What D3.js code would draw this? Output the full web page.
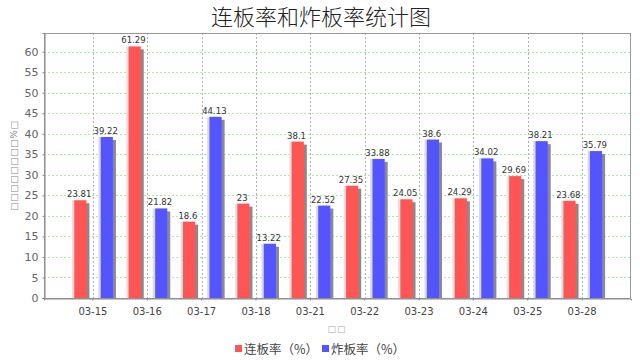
<!DOCTYPE html>
<html><head><meta charset="utf-8">
<script src="https://cdn.jsdelivr.net/npm/d3@7"></script>
<style>body{margin:0;background:#fff}svg{display:block}</style>
</head><body>
<svg id="c" width="640" height="360"></svg>
<script>
const categories = ["03-15","03-16","03-17","03-18","03-21","03-22","03-23","03-24","03-25","03-28"];
const seriesNames = ["连板率（%）","炸板率（%）"];
const lianban = [23.81,61.29,18.6,23,38.1,27.35,24.05,24.29,29.69,23.68];
const zhaban = [39.22,21.82,44.13,13.22,22.52,33.88,38.6,34.02,38.21,35.79];
const yTicks = [0,5,10,15,20,25,30,35,40,45,50,55,60];
const titleText = "连板率和炸板率统计图";
const yLabelText = "□□□□□□□□%□";
const xLabelText = "□□";

const svg = d3.select("#c");
const L=44, R=631, T=33, B=298;
const y = d3.scaleLinear().domain([0,64.55]).range([B,T]);
const x = d3.scaleBand().domain(categories).range([L,R]).paddingInner(0).paddingOuter(0.4);
const xs = d3.scaleBand().domain([0,1]).range([-27.5,26.5]).paddingInner(0.453).paddingOuter(0.245);
const colors = ["#ff5555","#5555ff"];
const lights = ["#ffd6d6","#d6d6ff"];
const data = [lianban, zhaban];

const defs = svg.append("defs");
colors.forEach((c,i)=>{
  const g = defs.append("linearGradient").attr("id","g"+i).attr("x1","0").attr("x2","1").attr("y1","0").attr("y2","0");
  g.append("stop").attr("offset","0").attr("stop-color",lights[i]);
  g.append("stop").attr("offset","0.12").attr("stop-color",lights[i]);
  g.append("stop").attr("offset","0.2").attr("stop-color",c);
  g.append("stop").attr("offset","1").attr("stop-color",c);
});

// title
svg.append("text").attr("x",321).attr("y",25).attr("text-anchor","middle")
  .attr("font-family","Noto Sans CJK SC").attr("font-weight",300).attr("font-size",22)
  .attr("fill","#222").text(titleText);

// plot background
svg.append("rect").attr("x",L).attr("y",T).attr("width",R-L).attr("height",B-T).attr("fill","#fff");

// horizontal gridlines
svg.append("g").selectAll("line").data(yTicks.filter(d=>d>0)).join("line")
  .attr("x1",L).attr("x2",R).attr("y1",d=>Math.round(y(d))+0.5).attr("y2",d=>Math.round(y(d))+0.5)
  .attr("stroke","#a8eca8").attr("stroke-dasharray","2,2").attr("stroke-width",1);
// vertical gridlines
svg.append("g").selectAll("line").data(categories).join("line")
  .attr("x1",d=>Math.round(x(d)+x.bandwidth()/2)+0.5).attr("x2",d=>Math.round(x(d)+x.bandwidth()/2)+0.5)
  .attr("y1",T).attr("y2",B)
  .attr("stroke","#b0b0b0").attr("stroke-dasharray","2,2").attr("stroke-width",1);

// bars
data.forEach((vals,si)=>{
  const g = svg.append("g");
  const cx = (d,i)=> x(categories[i]) + x.bandwidth()/2 + xs(si);
  g.selectAll("rect.s").data(vals).join("rect").attr("class","s")
    .attr("x",(d,i)=>cx(d,i)+3).attr("y",d=>y(d)+3)
    .attr("width",xs.bandwidth()).attr("height",d=>Math.max(0,B-y(d)-3))
    .attr("fill","#8a8a8a");
  g.selectAll("rect.b").data(vals).join("rect").attr("class","b")
    .attr("x",(d,i)=>cx(d,i)).attr("y",d=>y(d))
    .attr("width",xs.bandwidth()).attr("height",d=>B-y(d))
    .attr("fill","url(#g"+si+")");
  g.selectAll("text").data(vals).join("text")
    .attr("x",(d,i)=>cx(d,i)+xs.bandwidth()/2).attr("y",d=>y(d)-3)
    .attr("text-anchor","middle").attr("font-family","DejaVu Sans").attr("font-size",8.5)
    .attr("fill","#333").text(d=>d);
});

// plot outline
svg.append("rect").attr("x",L+0.5).attr("y",T+0.5).attr("width",R-L-1).attr("height",B-T)
  .attr("fill","none").attr("stroke","#999");

// y axis
const yAxis = svg.append("g").attr("transform",`translate(${L+0.5},0)`)
  .call(d3.axisLeft(y).tickValues(yTicks).tickSize(2).tickPadding(4).tickFormat(d3.format("d")));
yAxis.select(".domain").attr("stroke","#888");
yAxis.selectAll(".tick line").attr("stroke","#888");
yAxis.selectAll("text").attr("font-family","DejaVu Sans").attr("font-size",11).attr("fill","#666");

// x axis
const xAxis = svg.append("g").attr("transform",`translate(0,${B+0.5})`)
  .call(d3.axisBottom(x).tickSize(2).tickPadding(7));
xAxis.select(".domain").attr("stroke","#888");
xAxis.selectAll(".tick line").attr("stroke","#888");
xAxis.selectAll("text").attr("font-family","DejaVu Sans").attr("font-size",10).attr("fill","#444");

// axis labels
svg.append("text").attr("transform","translate(17,166) rotate(-90)").attr("text-anchor","middle")
  .attr("font-family","DejaVu Sans").attr("font-size",9).attr("fill","#888")
  .attr("textLength",90).attr("lengthAdjust","spacing").text(yLabelText);
svg.append("text").attr("x",337).attr("y",332).attr("text-anchor","middle")
  .attr("font-family","DejaVu Sans").attr("font-size",9).attr("fill","#aaa")
  .attr("letter-spacing",1).text(xLabelText);

// legend
const legX = [235, 322];
seriesNames.forEach((n,i)=>{
  svg.append("rect").attr("x",legX[i]).attr("y",345).attr("width",7).attr("height",7).attr("fill",colors[i]);
  svg.append("text").attr("x",legX[i]+9).attr("y",354).attr("font-family","Noto Sans CJK SC")
    .attr("font-size",12.5).attr("fill","#444").text(n);
});
</script>
</body></html>
